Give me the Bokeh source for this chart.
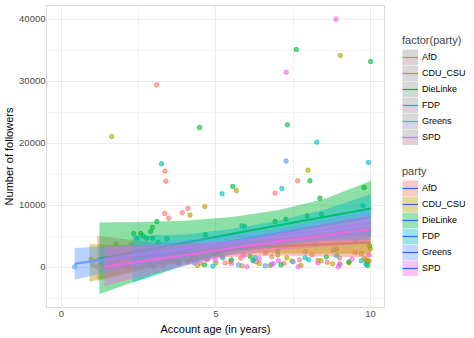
from bokeh.plotting import figure
from bokeh.layouts import row
from bokeh.models import (SingleIntervalTicker, Range1d, Legend, LegendItem,
                          BasicTickFormatter)
from bokeh.embed import file_html
from bokeh.resources import INLINE

FONT = "Liberation Sans"

parties = ["AfD", "CDU_CSU", "DieLinke", "FDP", "Greens", "SPD"]
colors = ["#F8766D", "#B79F00", "#00BA38", "#00BFC4", "#619CFF", "#F564E3"]

# ---- points: account age (years) and number of followers ----
afd_x = [3.08, 3.35, 3.38, 3.34, 3.47, 3.91, 4.09, 6.91, 7.64, 1.16, 2.2, 2.9, 3.6, 4.1, 4.7, 5.3, 5.8,
         6.3, 6.8, 7.2, 7.7, 8.1, 8.6, 9.0, 9.5, 9.9, 1.8, 2.6, 5.0, 2.87, 3.22, 4.5, 6.6, 8.9]
afd_y = [29440, 15500, 13900, 8700, 7930, 8790, 9490, 11970, 13950, 190, 600, 300, 1200, 900, 1300, 700, 1500,
         900, 1700, 600, 1200, 2000, 800, 1500, 2400, 1100, 900, 1400, 2100, 510, 940, 600, 2300, 2900]
cdu_x = [1.63, 9.02, 7.98, 4.16, 4.64, 5.66, 1.77, 2.27, 0.96, 1.6, 2.4, 3.0, 3.5, 4.4, 5.47, 5.84, 6.4,
         6.75, 7.29, 7.45, 7.75, 8.3, 8.4, 8.77, 9.3, 9.8, 9.85, 9.9, 9.95, 10.0, 9.7, 5.2, 6.2,
         1.02, 2.14, 3.75, 5.0, 7.0]
cdu_y = [21100, 34170, 15670, 8420, 9810, 12390, 3740, 3740, 1300, 400, 800, 200, 1000, 300, 940, 240, 600,
         300, 1530, 1000, 300, 1100, 1050, 560, 700, 1400, 1100, 800, 1000, 3000, 2200, 1800, 1200,
         400, 80, 1050, 700, 2000]
lin_x = [4.47, 7.6, 10.0, 7.31, 5.54, 8.04, 9.79, 8.36, 3.09, 2.95, 2.89, 2.57, 2.34, 2.63, 2.76, 2.95, 3.13,
         3.41, 4.66, 6.91, 7.26, 7.95, 8.41, 9.97, 2.44, 1.3, 2.0, 4.63, 5.5, 6.1, 7.1, 8.57, 9.3, 9.9]
lin_y = [22550, 35130, 33200, 22980, 13040, 13950, 12870, 11160, 7390, 6420, 5780, 5450, 5450, 5080, 4700, 4700, 4000,
         4600, 5240, 7390, 7770, 8300, 8570, 3470, 4700, 600, 300, 400, 1200, 1800, 400, 1690, 900, 300]
fdp_x = [3.24, 8.26, 9.93, 5.2, 7.13, 5.84, 5.93, 9.75, 9.91, 5.22, 6.2, 6.27, 7.88, 8.0, 9.7, 3.8, 2.5,
         4.9, 8.9, 9.85]
fdp_y = [16700, 20190, 16900, 11860, 12710, 6690, 6580, 9920, 6150, 1530, 1050, 1530, 1530, 1210, 1050, 700, 900,
         200, 1900, 500]
gre_x = [7.27, 0.43, 5.73, 6.59, 3.0, 4.0, 4.3, 5.0, 6.0, 7.0, 7.5, 8.2, 8.8, 9.5, 2.0, 1.5, 6.8, 9.0, 2.57]
gre_y = [17130, 80, 400, 240, 1500, 2100, 700, 2900, 3200, 2600, 900, 3800, 2800, 4300, 1800, 900, 500, 400, 240]
spd_x = [8.88, 7.27, 4.39, 4.72, 4.98, 6.0, 6.86, 7.02, 7.66, 8.95, 9.0, 1.4, 2.2, 2.8, 3.3, 3.7, 5.5,
         6.4, 8.3, 9.4, 9.95, 5.1, 4.2, 5.9, 7.9]
spd_y = [40030, 31480, 1210, 1210, 1210, 80, 560, 1050, 80, 80, 560, 100, 200, 500, 300, 800, 600,
         1400, 700, 1300, 2000, 2600, 1700, 1900, 2500]

# ---- smooth fits and confidence bands ----
afd_bx = [1.16, 3.0, 5.0, 7.0, 10.0]
afd_fit = [1450, 2000, 2700, 3300, 4100]
afd_lo = [-2200, 0, 1600, 1900, 1600]
afd_hi = [5100, 4000, 3800, 4700, 6600]
cdu_bx = [0.91, 3.2, 5.4, 6.4, 8.6, 10.0]
cdu_fit = [1100, 2020, 2930, 3360, 3730, 4000]
cdu_lo = [-2340, 500, 2000, 2300, 2200, 2200]
cdu_hi = [3740, 3540, 3860, 4420, 5260, 5800]
lin_bx = [1.23, 2.5, 4.0, 5.5, 7.0, 8.5, 10.02]
lin_fit = [1450, 2610, 3980, 5360, 6730, 8100, 9490]
lin_lo = [-4330, -2080, 460, 2620, 4260, 5200, 5030]
lin_hi = [7230, 7300, 7500, 8100, 9200, 11000, 13950]
fdp_bx = [2.3, 4.0, 5.5, 7.0, 8.5, 10.0]
fdp_fit = [1300, 2800, 4200, 5500, 6800, 8100]
fdp_lo = [-2500, 300, 2200, 3500, 4300, 4400]
fdp_hi = [5100, 5300, 6200, 7500, 9300, 11800]
gre_bx = [0.43, 2.5, 5.0, 7.5, 10.0]
gre_fit = [560, 2000, 3700, 5400, 7140]
gre_lo = [-1960, 300, 2600, 4100, 4900]
gre_hi = [3100, 3700, 4800, 6700, 9400]
spd_bx = [1.39, 3.5, 5.5, 7.5, 10.0]
spd_fit = [100, 1630, 3080, 4530, 6160]
spd_lo = [-3000, -300, 1900, 3000, 3900]
spd_hi = [3300, 3600, 4300, 6000, 8400]

x_ticks_interval = 5
y_ticks_interval = 10000

points = [(afd_x, afd_y), (cdu_x, cdu_y), (lin_x, lin_y), (fdp_x, fdp_y), (gre_x, gre_y), (spd_x, spd_y)]
bands = [(afd_bx, afd_fit, afd_lo, afd_hi), (cdu_bx, cdu_fit, cdu_lo, cdu_hi),
         (lin_bx, lin_fit, lin_lo, lin_hi), (fdp_bx, fdp_fit, fdp_lo, fdp_hi),
         (gre_bx, gre_fit, gre_lo, gre_hi), (spd_bx, spd_fit, spd_lo, spd_hi)]

p = figure(width=385, height=338, x_range=Range1d(-0.48, 10.45), y_range=Range1d(-6480, 42230),
           output_backend="svg", toolbar_location=None,
           min_border_left=45, min_border_right=1, min_border_top=5, min_border_bottom=31,
           background_fill_color="white", border_fill_color="white")
p.outline_line_color = "#DADADA"
p.outline_line_width = 1

p.xaxis.ticker = SingleIntervalTicker(interval=x_ticks_interval, num_minor_ticks=2)
p.yaxis.ticker = SingleIntervalTicker(interval=y_ticks_interval, num_minor_ticks=2)
p.yaxis.formatter = BasicTickFormatter(use_scientific=False)
p.xaxis.axis_label = "Account age (in years)"
p.yaxis.axis_label = "Number of followers"
for ax in (p.xaxis[0], p.yaxis[0]):
    ax.axis_line_color = None
    ax.major_tick_line_color = None
    ax.minor_tick_line_color = None
    ax.major_tick_out = 0
    ax.major_tick_in = 0
    ax.minor_tick_out = 0
    ax.minor_tick_in = 0
    ax.major_label_text_font = FONT
    ax.major_label_text_font_size = "9.5px"
    ax.major_label_text_color = "#4D4D4D"
    ax.axis_label_text_font = FONT
    ax.axis_label_text_font_size = "11px"
    ax.axis_label_text_font_style = "normal"
    ax.axis_label_text_color = "black"
p.yaxis.major_label_standoff = 1
p.yaxis.axis_label_standoff = 1
p.xaxis.major_label_standoff = 3
p.xaxis.axis_label_standoff = 3
for g in (p.xgrid[0], p.ygrid[0]):
    g.grid_line_color = "#EBEBEB"
    g.grid_line_width = 1
    g.minor_grid_line_color = "#F3F3F3"
    g.minor_grid_line_width = 1

for (xs, ys), c in zip(points, colors):
    p.scatter(xs, ys, size=4.5, fill_color=c, line_color=c, alpha=0.6)

for (bx, fit, lo, hi), c in zip(bands, colors):
    p.varea(x=bx, y1=lo, y2=hi, fill_color=c, fill_alpha=0.45)
    p.line(bx, fit, line_color=c, line_width=2)

# ---- legend panel ----
lf = figure(width=89, height=338, x_range=Range1d(0, 1), y_range=Range1d(0, 1),
            output_backend="svg", toolbar_location=None, min_border=0,
            x_axis_location=None, y_axis_location=None,
            background_fill_color="white", border_fill_color="white")
lf.grid.visible = False
lf.outline_line_color = None

# legend key renderers sit outside the visible range of the legend panel;
# a 16px-wide line gives a key background without gaps
kx = [-10, -9]
ky = [-10, -10]
items1, items2 = [], []
for name, c in zip(parties, colors):
    g = lf.line(x=kx, y=ky, line_color="#999999", line_alpha=0.4, line_width=16, line_cap="butt")
    l1 = lf.line(x=kx, y=ky, line_color=c, line_width=1.2)
    items1.append(LegendItem(label=name, renderers=[g, l1]))
    f = lf.line(x=kx, y=ky, line_color=c, line_alpha=0.4, line_width=16, line_cap="butt")
    l2 = lf.line(x=kx, y=ky, line_color="#3366FF", line_width=1.2)
    items2.append(LegendItem(label=name, renderers=[f, l2]))


def make_legend(items, title, loc):
    lg = Legend(items=items, title=title, location=loc)
    lg.title_text_font = FONT
    lg.title_text_font_size = "11px"
    lg.title_text_font_style = "normal"
    lg.title_standoff = 3
    lg.label_text_font = FONT
    lg.label_text_font_size = "9px"
    lg.label_text_color = "black"
    lg.glyph_width = 16
    lg.glyph_height = 16
    lg.label_height = 16
    lg.label_standoff = 4
    lg.spacing = 0
    lg.padding = 0
    lg.margin = 0
    lg.border_line_color = None
    lg.background_fill_alpha = 0
    return lg


lf.add_layout(make_legend(items1, "factor(party)", (17, 162)), "center")
lf.add_layout(make_legend(items2, "party", (17, 31)), "center")

layout = row(p, lf)
open("out.html", "w").write(file_html(layout, INLINE))
